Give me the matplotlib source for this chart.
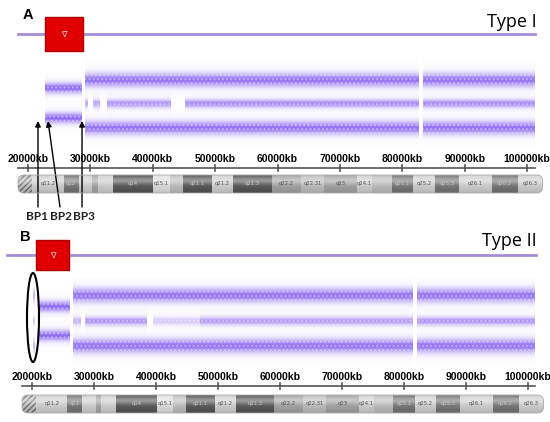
import numpy as np
import matplotlib
matplotlib.use("Agg")
import matplotlib.pyplot as plt
from matplotlib.colors import to_rgb
from matplotlib.patches import Rectangle, FancyBboxPatch, Ellipse

W, H = 550, 422

# ---- data ------------------------------------------------------------------
tick_kb = [20000, 30000, 40000, 50000, 60000, 70000, 80000, 90000, 100000]
tick_labels = ["%dkb" % t for t in tick_kb]

# chromosome 15 ideogram (kb)
band_start = [18400, 20700, 25700, 28100, 30300, 31200, 33600, 40100, 42800, 44800, 49500,
              52900, 59100, 63700, 67500, 72700, 75200, 78300, 81700, 85200, 89100, 94300, 98500]
band_end = band_start[1:] + [102500]
band_name = ["", "q11.2", "q12", "", "", "", "q14", "q15.1", "", "q21.1", "q21.2",
             "q21.3", "q22.2", "q22.31", "q23", "q24.1", "", "q25.1", "q25.2", "q25.3",
             "q26.1", "q26.2", "q26.3"]
band_tone = ["hatch", "light", "dark2", "light", "mid", "light", "dark", "pale", "grey", "dark",
             "light", "dark", "mid", "grey", "mid", "light", "grey", "dark2", "light", "dark2",
             "light", "dark2", "light"]

# B-allele frequency clusters: (start kb, end kb, BAF level, density)
a_clusters = [
    (22730, 28660, 0.83, 0.95), (22730, 28660, 0.21, 0.95),
    (29140, 82520, 1.0, 0.9), (83320, 101270, 1.0, 0.9),
    (29140, 29620, 0.5, 0.6), (30420, 31540, 0.5, 0.6), (32660, 42760, 0.5, 0.7),
    (45170, 82520, 0.5, 0.75), (83320, 101270, 0.5, 0.75),
    (29140, 82520, 0.0, 0.9), (83320, 101270, 0.0, 0.9),
]
b_clusters = [
    (20150, 20450, 1.0, 0.5), (20150, 20450, 0.5, 0.4), (20150, 20450, 0.0, 0.5),
    (21130, 26130, 0.78, 0.95), (21130, 26130, 0.20, 0.95),
    (26610, 81300, 1.0, 0.9), (82100, 101130, 1.0, 0.9),
    (26610, 27740, 0.5, 0.5), (28550, 38550, 0.5, 0.7), (39520, 47100, 0.5, 0.35),
    (47100, 81300, 0.5, 0.65), (82100, 101130, 0.5, 0.7),
    (26610, 81300, 0.0, 0.9), (82100, 101130, 0.0, 0.9),
]

# red CNV boxes (kb)
a_cnv = (22730, 28820)
b_cnv = (20650, 25970)

# breakpoints in panel A (kb)
bp_names = ["BP1", "BP2", "BP3"]
bp_tip = [21600, 23210, 28660]
bp_base = [21600, 25130, 28660]
bp_label_kb = [21440, 25290, 28980]

# circled SNPs in panel B
b_circle = (20160, 0.57)

purple = "#6a3df0"
tones = {"pale": "#e2e2e2", "light": "#d2d2d2", "grey": "#c0c0c0", "mid": "#a6a6a6",
         "dark2": "#777777", "dark": "#585858", "hatch": "#c8c8c8"}


def pax(fig, top, bottom):
    return fig.add_axes([0, 1 - bottom / H, 1, (bottom - top) / H])


def kbpx(ax):
    x0, x1 = ax.get_xlim()
    return (x1 - x0) / W


def draw_clusters(ax, clusters):
    rgb = to_rgb(purple)
    u = np.linspace(-5, 5, 120)
    for s, e, lvl, d in clusters:
        if lvl in (0.0, 1.0):
            sp = 0.09
        elif lvl == 0.5:
            sp = 0.055
        else:
            sp = 0.07
        img = np.zeros((120, 1, 4))
        img[:, 0, :3] = rgb
        img[:, 0, 3] = d * (0.72 * np.exp(-u ** 2 / 2) + 0.07 * np.exp(-u ** 2 / 9.7))
        ax.imshow(img, extent=(s, e, lvl - 5 * sp, lvl + 5 * sp), aspect="auto",
                  origin="lower", interpolation="bilinear")
        ax.fill_between([s, e], lvl - 1.3 * sp, lvl + 1.3 * sp, facecolor="none",
                        edgecolor="white", hatch="....", lw=0, alpha=0.35)


def draw_ideogram(ax, y_axis, y_top, x_start, x_end):
    ax.plot([x_start, x_end], [y_axis, y_axis], color="#555555", lw=1.2)
    for t, lab in zip(tick_kb, tick_labels):
        ax.plot([t, t], [y_axis - 3, y_axis + 3], color="#555555", lw=1.2)
        ax.text(t, y_axis - 9, lab, ha="center", va="center", fontsize=7.5,
                fontweight="bold", family="Liberation Sans")
    h = 18
    k = kbpx(ax)
    outline = FancyBboxPatch((band_start[0], y_top), band_end[-1] - band_start[0], h,
                             boxstyle="round,pad=0,rounding_size=%f" % (6 * k),
                             mutation_aspect=1.0 / k, facecolor="none",
                             edgecolor="#aaaaaa", lw=0.6, zorder=4)
    ax.add_patch(outline)
    for s, e, nm, tn in zip(band_start, band_end, band_name, band_tone):
        r = Rectangle((s, y_top), e - s, h, facecolor=tones[tn], lw=0, zorder=2)
        if tn == "hatch":
            r.set_hatch("//////")
            r.set_edgecolor("#6e6e6e")
        ax.add_patch(r)
        r.set_clip_path(outline)
        if nm:
            col = "#c8c8c8" if tn in ("dark", "dark2") else "#555555"
            ax.text((s + e) / 2, y_top + h / 2, nm, ha="center", va="center",
                    fontsize=3.8, color=col, zorder=5)
    t = np.linspace(0, 1, 60)
    shade = np.zeros((60, 1, 4))
    hi = 0.4 * np.exp(-((t - 0.3) / 0.22) ** 2)
    lo = 0.14 * t ** 2
    shade[:, 0, :3] = (hi / (hi + lo + 1e-9))[:, None]
    shade[:, 0, 3] = hi + lo
    im = ax.imshow(shade, extent=(band_start[0], band_end[-1], y_top + h, y_top),
                   aspect="auto", origin="upper", zorder=3, interpolation="bilinear")
    im.set_clip_path(outline)


fig = plt.figure(figsize=(5.5, 4.22), dpi=100)

# ---- panel A --------------------------------------------------------------
xa = (15512, 15512 + W * 160.3)
sA = pax(fig, 58, 148)
draw_clusters(sA, a_clusters)
sA.set_xlim(xa)
sA.set_ylim(-0.417, 1.458)
sA.axis("off")

pA = pax(fig, 0, 211)
pA.set_xlim(xa)
pA.set_ylim(211, 0)
pA.axis("off")
pA.set_zorder(5)
k = kbpx(pA)
pA.plot([xa[0] + 18 * k, xa[0] + 535 * k], [34, 34], color="#a58ed6", lw=2, zorder=1)
pA.add_patch(Rectangle((a_cnv[0], 17), a_cnv[1] - a_cnv[0], 34, facecolor="#e10000",
                       edgecolor="#b00000", lw=1, zorder=2))
pA.text(sum(a_cnv) / 2, 34, "\u2207", color="#ffd6d6", fontsize=6, ha="center", va="center", zorder=3)
pA.text(xa[0] + 28 * k, 15, "A", fontsize=10.5, fontweight="bold", ha="center", va="center",
        family="Liberation Sans")
pA.text(xa[0] + 537 * k, 22, "Type I", fontsize=13, ha="right", va="center", family="Open Sans")
draw_ideogram(pA, 168, 175, xa[0] + 18 * k, xa[0] + 535 * k)
pA.set_xlim(xa)
pA.set_ylim(211, 0)
for nm, tip, base, lx in zip(bp_names, bp_tip, bp_base, bp_label_kb):
    pA.annotate("", xy=(tip, 121), xytext=(base, 207),
                arrowprops=dict(arrowstyle="-|>", color="k", lw=1, mutation_scale=8,
                                shrinkA=0, shrinkB=0))
    pA.text(lx, 216, nm, fontsize=8.5, fontweight="bold", ha="center",
            va="center", family="Lato", color="#222222")

# ---- panel B --------------------------------------------------------------
xb = (14839, 14839 + W * 161.3)
sB = pax(fig, 278, 368)
draw_clusters(sB, b_clusters)
sB.set_xlim(xb)
sB.set_ylim(-0.44, 1.36)
sB.axis("off")
kb_b = kbpx(sB)
sB.add_patch(Ellipse(b_circle, 12 * kb_b, 1.78, facecolor="none", edgecolor="k",
                     lw=1.5, clip_on=False))

pB = pax(fig, 211, 422)
pB.set_xlim(xb)
pB.set_ylim(422, 211)
pB.axis("off")
pB.set_zorder(5)
k = kbpx(pB)
pB.plot([xb[0] + 7 * k, xb[0] + 536 * k], [255, 255], color="#a58ed6", lw=2, zorder=1)
pB.add_patch(Rectangle((b_cnv[0], 240), b_cnv[1] - b_cnv[0], 30, facecolor="#e10000",
                       edgecolor="#b00000", lw=1, zorder=2))
pB.text(sum(b_cnv) / 2, 255, "\u2207", color="#ffd6d6", fontsize=6, ha="center", va="center", zorder=3)
pB.text(xb[0] + 25 * k, 237, "B", fontsize=10.5, fontweight="bold", ha="center", va="center",
        family="Liberation Sans")
pB.text(xb[0] + 537 * k, 241, "Type II", fontsize=13, ha="right", va="center", family="Open Sans")
draw_ideogram(pB, 386, 395, xb[0] + 22 * k, xb[0] + 535 * k)
pB.set_xlim(xb)
pB.set_ylim(422, 211)

fig.savefig("out.png", dpi=100)
